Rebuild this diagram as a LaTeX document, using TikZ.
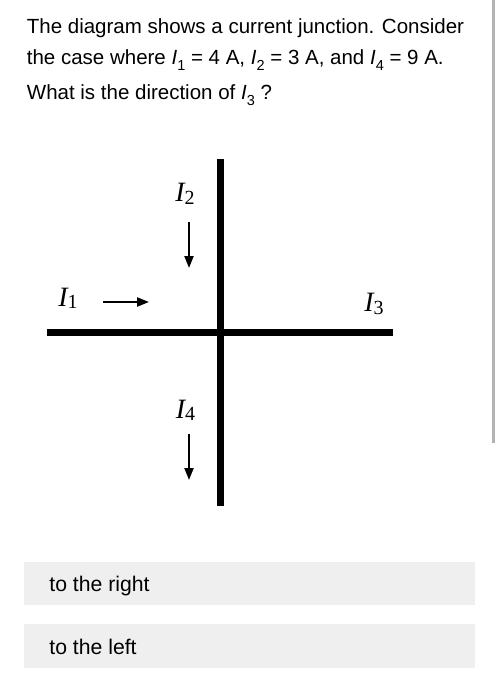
\documentclass[tikz,border=0pt]{standalone}
\usepackage{fontspec}
\setmainfont{Liberation Sans}
\newfontfamily\labelfont{Liberation Serif}
\usetikzlibrary{arrows.meta}

\definecolor{boxgray}{HTML}{EFEFEF}
\definecolor{bargray}{HTML}{B4B4B4}

% current symbols: sans in the text, serif in the picture
\newcommand{\txtcur}[1]{\textit{I}\raisebox{-0.27em}{\fontsize{14.5}{14}\selectfont #1}}
\newcommand{\piccur}[1]{{\labelfont\fontsize{28}{28}\selectfont\itshape I\raisebox{-0.1em}{\fontsize{20}{20}\selectfont\upshape #1}}}

\begin{document}
\begin{tikzpicture}[x=1pt, y=-1pt, thick,
    question/.style={anchor=base west, inner sep=0pt, font=\fontsize{20.5}{24}\selectfont},
    choice/.style={anchor=base west, inner sep=0pt, font=\fontsize{21.2}{24}\selectfont},
    wire/.style={line width=7pt},
    flow/.style={line width=2.2pt, -{Triangle[length=12pt, width=9pt]}},
    lbl/.style={anchor=base west, inner sep=0pt}]
        \useasboundingbox (0,0) rectangle (499,700);

        % SCROLLBAR
        \fill[bargray] (492,0) rectangle (495,443);

        % QUESTION
        \node[question] (q1) at (26.5,34) {The diagram shows a current junction. Consider};
        \node[question] (q2) at (26.5,65) {the case where \txtcur{1} = 4 A, \txtcur{2} = 3 A, and \txtcur{4} = 9 A.};
        \node[question] (q3) at (26.5,99.5) {What is the direction of \txtcur{3} ?};

        % JUNCTION
        \draw[wire] (47,332.5) -- (393,332.5);
        \draw[wire] (220.3,159) -- (220.3,506);

        \node[lbl] (i1) at (58,306) {\piccur{1}};
        \node[lbl] (i2) at (175,202) {\piccur{2}};
        \node[lbl] (i3) at (364,311.5) {\piccur{3}};
        \node[lbl] (i4) at (175.5,418) {\piccur{4}};

        \coordinate (a1s) at (103,302);
        \coordinate (a1e) at (149,302);
        \coordinate (a2s) at (189,222);
        \coordinate (a2e) at (189,268);
        \coordinate (a4s) at (189,434);
        \coordinate (a4e) at (189,480);
        \draw[flow] (a1s) -- (a1e);
        \draw[flow] (a2s) -- (a2e);
        \draw[flow] (a4s) -- (a4e);

        % CHOICES
        \fill[boxgray] (24,562) rectangle (475,605);
        \fill[boxgray] (24,624) rectangle (475,668);
        \node[choice] (right) at (49,591.5) {to the right};
        \node[choice] (left) at (49,654) {to the left};
\end{tikzpicture}
\end{document}
